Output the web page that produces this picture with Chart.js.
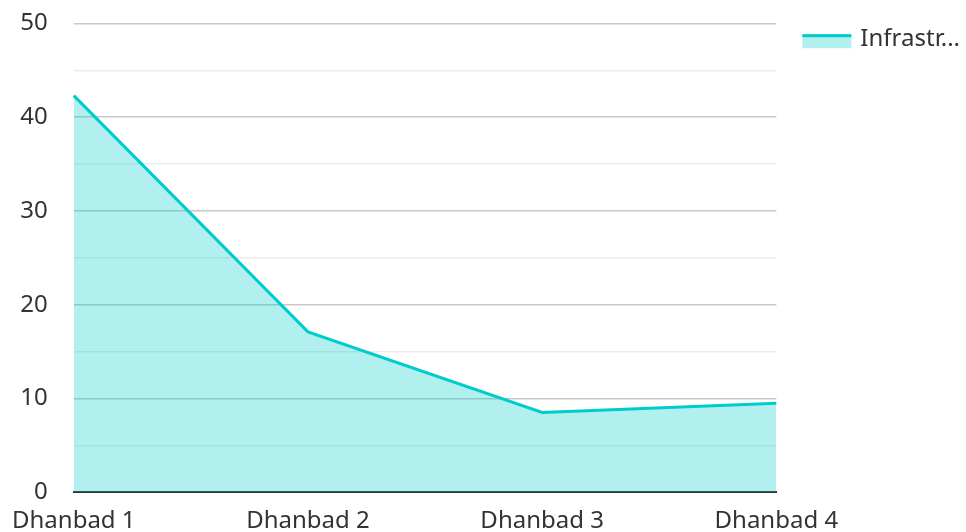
<!DOCTYPE html>
<html>
<head>
<meta charset="utf-8">
<script src="https://cdn.jsdelivr.net/npm/chart.js@4.4.0/dist/chart.umd.min.js"></script>
<style>
    html, body { margin: 0; padding: 0; background: #fff; overflow: hidden; width: 966px; height: 532px; }
    #wrap { position: absolute; left: -3px; top: 0; width: 973px; height: 551px; }
</style>
</head>
<body>
<div id="wrap"><canvas id="chart"></canvas></div>
<script>
var categories = ['Dhanbad 1', 'Dhanbad 2', 'Dhanbad 3', 'Dhanbad 4'];
var infraValues = [42.3, 17.1, 8.5, 9.5];
var seriesLabel = 'Infrastr...';
var yTicks = [0, 10, 20, 30, 40, 50];

var sLine = 'rgb(0, 204, 204)';
var sFill = 'rgba(0, 204, 204, 0.3)';
var iSwatchOffset = 20;   // visible swatch sits inside a wider, empty legend box
var iSwatchW = 49;
var iSwatchH = 14;

// legend swatch: light fill with the line colour across its top edge
var legendSwatchPlugin = {
    id: 'legendSwatch',
    afterDraw: function (chart) {
        var oBoxes = chart.legend && chart.legend.legendHitBoxes;
        if (!oBoxes || !oBoxes.length)
            return;
        var oBox = oBoxes[0];
        var ctx = chart.ctx;
        var iLeft = oBox.left + iSwatchOffset;
        var iTop = oBox.top + (oBox.height - iSwatchH) / 2 + 2;
        ctx.save();
        ctx.fillStyle = sFill;
        ctx.fillRect(iLeft, iTop, iSwatchW, iSwatchH);
        ctx.fillStyle = sLine;
        ctx.fillRect(iLeft, iTop, iSwatchW, 3);
        ctx.restore();
    }
};

Chart.defaults.font.family = '"Noto Sans", "Open Sans", sans-serif';
Chart.defaults.font.size = 24;
Chart.defaults.color = '#333';

new Chart(document.getElementById('chart'), {
    type: 'line',
    data: {
        labels: categories,
        datasets: [{
            label: seriesLabel,
            data: infraValues,
            borderColor: sLine,
            backgroundColor: sFill,
            borderWidth: 3,
            fill: 'origin',
            pointRadius: 0,
            tension: 0
        }]
    },
    options: {
        responsive: true,
        maintainAspectRatio: false,
        animation: false,
        layout: { padding: 0 },
        plugins: {
            tooltip: { enabled: false },
            legend: {
                position: 'right',
                align: 'start',
                title: {
                    display: true,
                    text: ' ',
                    font: { size: 1 },
                    padding: { top: 0, bottom: 20 }
                },
                labels: {
                    boxWidth: 66,
                    boxHeight: 14,
                    padding: 6,
                    color: '#333',
                    generateLabels: function (chart) {
                        return [{
                            text: seriesLabel,
                            fillStyle: 'rgba(0,0,0,0)',
                            strokeStyle: 'rgba(0,0,0,0)',
                            lineWidth: 0,
                            datasetIndex: 0
                        }];
                    }
                }
            }
        },
        scales: {
            x: {
                offset: false,
                grid: { display: false, drawTicks: false },
                border: { display: true, color: '#333', width: 2 },
                ticks: { padding: 15, maxRotation: 0 }
            },
            y: {
                min: 0,
                max: 50,
                afterBuildTicks: function (scale) {
                    var aAll = [];
                    for (var i = 0; i < yTicks.length; i++) {
                        aAll.push({ value: yTicks[i] });
                        if (i < yTicks.length - 1)
                            aAll.push({ value: yTicks[i] + 5 });
                    }
                    scale.ticks = aAll;
                },
                grid: {
                    drawTicks: true,
                    tickLength: 17,
                    tickColor: 'rgba(0,0,0,0)',
                    color: function (ctx) {
                        return ctx.tick && ctx.tick.value % 10 === 0 ? '#c8c8c8' : '#ebebeb';
                    },
                    lineWidth: 1.5
                },
                border: { display: false },
                ticks: {
                    padding: 9,
                    callback: function (v) {
                        return v % 10 === 0 ? v : '';
                    }
                }
            }
        }
    },
    plugins: [legendSwatchPlugin]
});
</script>
</body>
</html>
